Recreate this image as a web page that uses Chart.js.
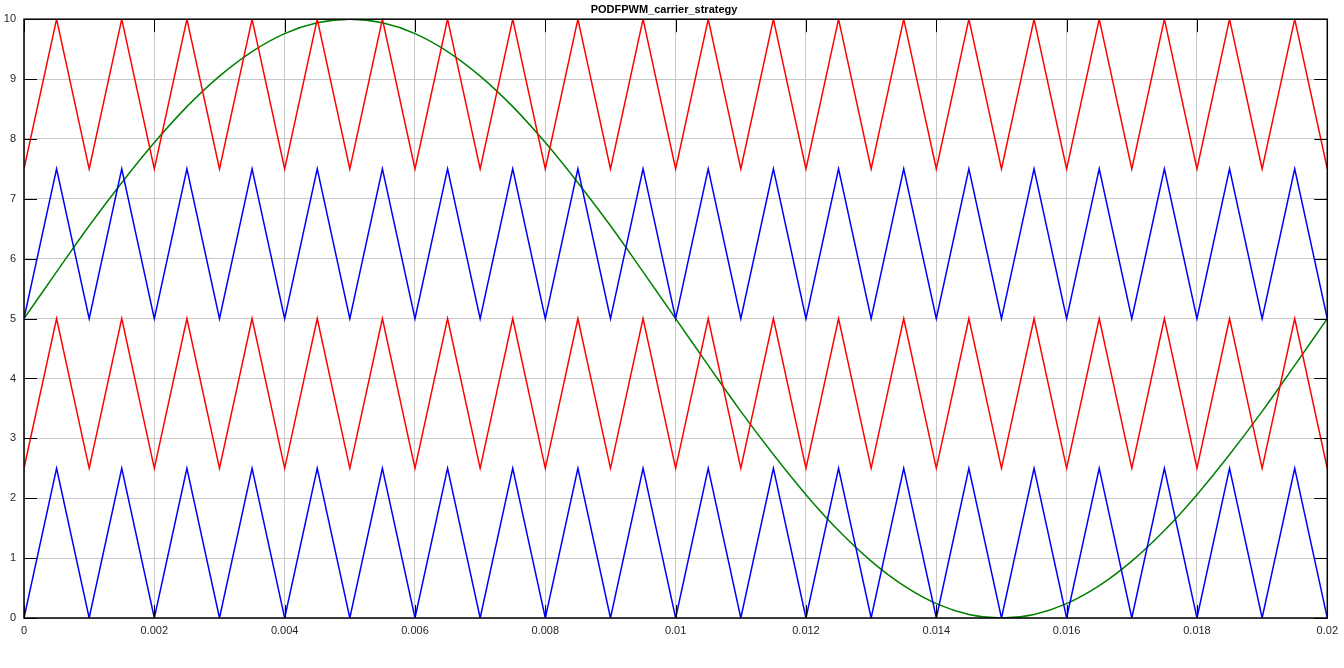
<!DOCTYPE html>
<html><head><meta charset="utf-8">
<script src="https://cdn.jsdelivr.net/npm/chart.js@4/dist/chart.umd.min.js"></script>
<style>html,body{margin:0;background:#fff}#w{width:1344px;height:668px}</style>
</head><body><div id="w"><canvas id="c"></canvas></div>
<script>
const times = [0,0.0005,0.001,0.0015,0.002,0.0025,0.003,0.0035,0.004,0.0045,0.005,0.0055,0.006,0.0065,0.007,0.0075,0.008,0.0085,0.009,0.0095,0.01,0.0105,0.011,0.0115,0.012,0.0125,0.013,0.0135,0.014,0.0145,0.015,0.0155,0.016,0.0165,0.017,0.0175,0.018,0.0185,0.019,0.0195,0.02];
const carrier1 = [0,2.5,0,2.5,0,2.5,0,2.5,0,2.5,0,2.5,0,2.5,0,2.5,0,2.5,0,2.5,0,2.5,0,2.5,0,2.5,0,2.5,0,2.5,0,2.5,0,2.5,0,2.5,0,2.5,0,2.5,0];
const carrier2 = [2.5,5,2.5,5,2.5,5,2.5,5,2.5,5,2.5,5,2.5,5,2.5,5,2.5,5,2.5,5,2.5,5,2.5,5,2.5,5,2.5,5,2.5,5,2.5,5,2.5,5,2.5,5,2.5,5,2.5,5,2.5];
const carrier3 = [5,7.5,5,7.5,5,7.5,5,7.5,5,7.5,5,7.5,5,7.5,5,7.5,5,7.5,5,7.5,5,7.5,5,7.5,5,7.5,5,7.5,5,7.5,5,7.5,5,7.5,5,7.5,5,7.5,5,7.5,5];
const carrier4 = [7.5,10,7.5,10,7.5,10,7.5,10,7.5,10,7.5,10,7.5,10,7.5,10,7.5,10,7.5,10,7.5,10,7.5,10,7.5,10,7.5,10,7.5,10,7.5,10,7.5,10,7.5,10,7.5,10,7.5,10,7.5];
const reference = [5,5.78,6.55,7.27,7.94,8.54,9.05,9.46,9.76,9.94,10,9.94,9.76,9.46,9.05,8.54,7.94,7.27,6.55,5.78,5,4.22,3.45,2.73,2.06,1.46,0.95,0.54,0.24,0.06,0,0.06,0.24,0.54,0.95,1.46,2.06,2.73,3.45,4.22,5];
const xTicks = [0,0.002,0.004,0.006,0.008,0.01,0.012,0.014,0.016,0.018,0.02];
const yTicks = [0,1,2,3,4,5,6,7,8,9,10];

const pts = arr => times.map((t,i)=>({x:t,y:arr[i]}));
const ds = (arr,col,tension)=>({data:pts(arr),borderColor:col,borderWidth:1.5,pointRadius:0,tension:tension||0,fill:false});

const inTicks = {id:'inTicks',afterDraw(ch){
  const {ctx,chartArea:a,scales:{x,y}}=ch;ctx.save();ctx.strokeStyle='#000';ctx.lineWidth=1;ctx.beginPath();
  xTicks.forEach(v=>{const p=Math.round(x.getPixelForValue(v))+0.5;ctx.moveTo(p,a.bottom);ctx.lineTo(p,a.bottom-13);ctx.moveTo(p,a.top);ctx.lineTo(p,a.top+13);});
  yTicks.forEach(v=>{const p=Math.round(y.getPixelForValue(v))+0.5;ctx.moveTo(a.left,p);ctx.lineTo(a.left+13,p);ctx.moveTo(a.right,p);ctx.lineTo(a.right-13,p);});
  ctx.stroke();ctx.lineWidth=1.5;ctx.strokeRect(a.left,a.top,a.right-a.left,a.bottom-a.top);ctx.restore();}};

new Chart(document.getElementById('c'),{type:'line',
 data:{datasets:[ds(carrier1,'#0000ff'),ds(carrier2,'#ff0000'),ds(carrier3,'#0000ff'),ds(carrier4,'#ff0000'),ds(reference,'#008000',0.4)]},
 options:{responsive:true,maintainAspectRatio:false,animation:false,
  layout:{padding:{right:16,left:0,top:0,bottom:0}},
  plugins:{legend:{display:false},tooltip:{enabled:false},
   title:{display:true,text:'PODFPWM_carrier_strategy',color:'#000',font:{family:'Arial, Liberation Sans',size:11,weight:'bold'},padding:{top:3,bottom:3}}},
  scales:{
   x:{type:'linear',min:0,max:0.02,afterBuildTicks(s){s.ticks=xTicks.map(v=>({value:v}));},
      afterFit(s){s.height=50;},
      ticks:{color:'#262626',font:{family:'Arial, Liberation Sans',size:11},padding:6,maxRotation:0,callback:v=>String(+v.toFixed(3))},
      grid:{color:'#c8c8c8',drawTicks:false},border:{display:false}},
   y:{min:0,max:10,afterBuildTicks(s){s.ticks=yTicks.map(v=>({value:v}));},
      afterFit(s){s.width=24;},
      ticks:{color:'#262626',font:{family:'Arial, Liberation Sans',size:11},padding:8},
      grid:{color:'#c8c8c8',drawTicks:false},border:{display:false}}}},
 plugins:[inTicks]});
</script></body></html>
